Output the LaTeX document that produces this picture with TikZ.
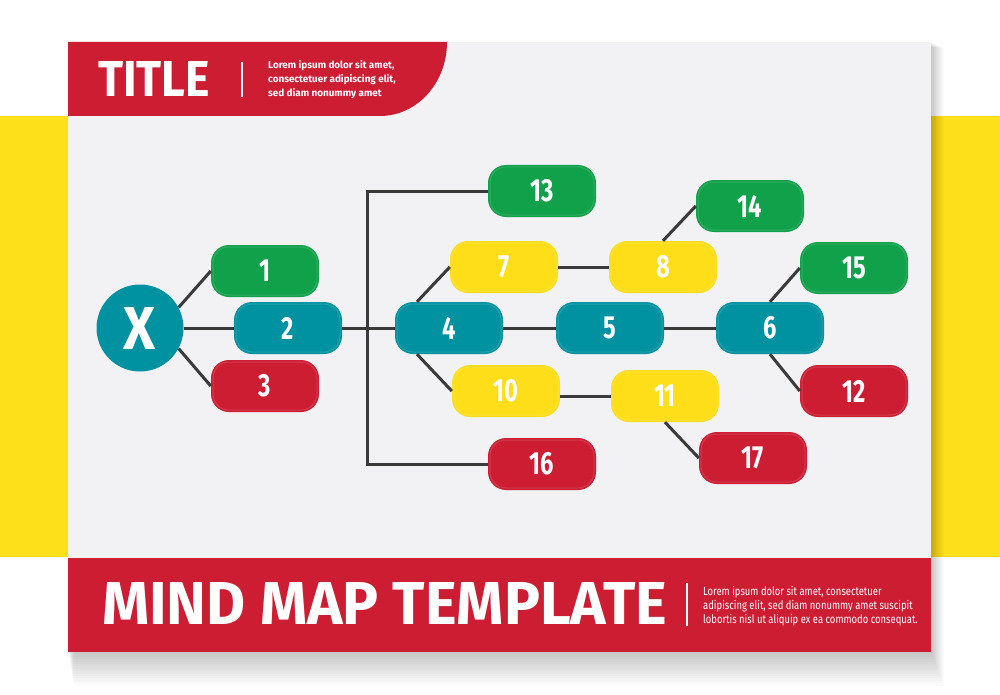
\documentclass[tikz,border=0pt]{standalone}
\usepackage{fontspec}
\setmainfont{Fira Sans}
\newfontfamily\cf[FakeStretch=0.74]{Fira Sans}
\newfontfamily\cfb[FakeStretch=0.8]{Fira Sans}
\newcommand\digf{\cf\bfseries\fontsize{32}{32}\selectfont}
\definecolor{cgreen}{RGB}{17,161,74}
\definecolor{cteal}{RGB}{0,146,161}
\definecolor{cred}{RGB}{205,29,51}
\definecolor{cyel}{RGB}{254,221,25}
\definecolor{cbg}{RGB}{242,242,244}
\definecolor{cband}{RGB}{253,224,26}
\definecolor{cline}{RGB}{58,58,58}
\tikzset{
  mmbox/.style={rounded corners=18pt, minimum width=108pt, minimum height=52pt,
    inner sep=0pt, text=white, font=\digf, fill=#1,
    path picture={\draw[white, opacity=0.13, line width=1pt, rounded corners=16pt]
      ([shift={(2pt,-2pt)}]path picture bounding box.north west) rectangle
      ([shift={(-2pt,2pt)}]path picture bounding box.south east);}},
  conn/.style={draw=cline, line width=3pt},
  smalltxt/.style={anchor=base west, inner sep=0pt, text=white},
  bigtxt/.style={anchor=south west, inner sep=0pt, text=white},
}
\begin{document}
\begin{tikzpicture}[x=1pt,y=-1pt]
\useasboundingbox (0,0) rectangle (1000,695);
\fill[white] (0,0) rectangle (1000,695);
% yellow band
\fill[cband] (0,116) rectangle (1000,557);
% card shadow
\foreach \i in {1,...,14}{
  \fill[black, opacity=0.014] (68+\i*0.4,42+\i*0.4) rectangle (931+\i*0.9,652+\i*2.4);
}
% card
\fill[cbg] (68,42) rectangle (931,652);
% title banner
\fill[cred] (68,42) -- (447,42) .. controls (447,83) and (417,116) .. (380,116) -- (68,116) -- cycle;
\node[bigtxt] (title) at (98,97) {\resizebox{112pt}{35pt}{\bfseries TITLE}};
\draw[white, line width=1.3pt] (242,62) -- (242,97);
\node[smalltxt, font=\bfseries\fontsize{9.9}{12}\selectfont] (t1) at (268,69) {Lorem ipsum dolor sit amet,};
\node[smalltxt, font=\bfseries\fontsize{9.9}{12}\selectfont] (t2) at (268,83) {consectetuer adipiscing elit,};
\node[smalltxt, font=\bfseries\fontsize{9.9}{12}\selectfont] (t3) at (268,97) {sed diam nonummy amet};
% bottom banner
\fill[cred] (68,558) rectangle (931,652);
\node[bigtxt] (mmt) at (102,625) {\resizebox{565pt}{42pt}{\bfseries MIND MAP TEMPLATE}};
\draw[white, line width=1.3pt] (687,583) -- (687,626);
\node[smalltxt, font=\cfb\fontsize{11.8}{13}\selectfont] (b1t) at (703,595) {Lorem ipsum dolor sit amet, consectetuer};
\node[smalltxt, font=\cfb\fontsize{11.8}{13}\selectfont] (b2t) at (703,609) {adipiscing elit, sed diam nonummy amet suscipit};
\node[smalltxt, font=\cfb\fontsize{11.8}{13}\selectfont] (b3t) at (703,623) {lobortis nisl ut aliquip ex ea commodo consequat.};
% nodes
\node[circle, fill=cteal, minimum size=87pt, inner sep=0pt, text=white] (X) at (140,328) {\resizebox{32pt}{42pt}{\bfseries X}};
\node[mmbox=cgreen] (n1) at (265,271) {1};
\node[mmbox=cteal] (n2) at (288,328) {2};
\node[mmbox=cred] (n3) at (265,386) {3};
\node[mmbox=cteal] (n4) at (449,328) {4};
\node[mmbox=cteal] (n5) at (610,328) {5};
\node[mmbox=cteal] (n6) at (770,328) {6};
\node[mmbox=cyel] (n7) at (504,267) {7};
\node[mmbox=cyel] (n8) at (663,267) {8};
\node[mmbox=cyel] (n10) at (506,391) {10};
\node[mmbox=cyel] (n11) at (665,396) {11};
\node[mmbox=cred] (n12) at (854,391) {12};
\node[mmbox=cgreen] (n13) at (542,191) {13};
\node[mmbox=cgreen] (n14) at (750,206) {14};
\node[mmbox=cgreen] (n15) at (854,268) {15};
\node[mmbox=cred] (n16) at (542,464) {16};
\node[mmbox=cred] (n17) at (753,458) {17};
\coordinate (trunk) at (367,328);
% connectors
\draw[conn] (X.28) -- (n1.west);
\draw[conn] (X.-28) -- (n3.west);
\draw[conn] (X.east) -- (n2.west);
\draw[conn] (n2.east) -- (n4.west);
\draw[conn] (n13.west) -- (n13.west -| trunk) -- (n16.west -| trunk) -- (n16.west);
\draw[conn] ([xshift=-32pt]n4.north) -- (n7.west);
\draw[conn] ([xshift=-32pt]n4.south) -- (n10.west);
\draw[conn] (n4.east) -- (n5.west);
\draw[conn] (n5.east) -- (n6.west);
\draw[conn] (n7.east) -- (n8.west);
\draw[conn] (n11.west -| n10.east) -- (n11.west);
\draw[conn] (n8.north) -- (n14.west);
\draw[conn] (n6.north) -- (n15.west);
\draw[conn] (n6.south) -- (n12.west);
\draw[conn] (n11.south) -- (n17.west);
\end{tikzpicture}
\end{document}
